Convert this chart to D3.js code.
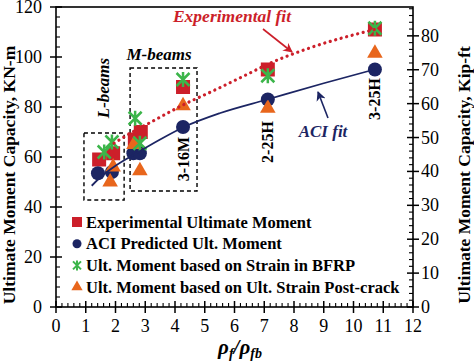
<!DOCTYPE html>
<html>
<head>
<meta charset="utf-8">
<script src="https://cdn.jsdelivr.net/npm/d3@7"></script>
<style>
body { margin: 0; background: #fff; }
text { font-family: "Liberation Serif", "Times New Roman", serif; }
</style>
</head>
<body>
<svg id="chart" width="474" height="361"></svg>
<script>
// values (x = rho_f / rho_fb, y = kN-m)
var expX = [1.45, 1.92, 2.65, 2.85, 4.27, 7.12, 10.72];
var expY = [59, 61.5, 67, 70, 88, 95, 111];
var aciX = [1.41, 1.88, 2.6, 2.82, 4.27, 7.12, 10.72];
var aciY = [53.5, 54, 61.5, 61.5, 72, 83, 95];
var strainX = [1.62, 1.88, 2.66, 2.82, 4.27, 7.12, 10.72];
var strainY = [62, 66, 75.5, 65.5, 91, 92.5, 111.5];
var crackX = [1.82, 1.92, 2.62, 2.82, 4.27, 7.12, 10.72];
var crackY = [50, 56, 65, 54.5, 80.5, 79.5, 101.5];

// fitted curves, traced
var aciFitX = [1.2, 1.5, 2.0, 2.7, 3.5, 4.3, 5.5, 7.1, 9.0, 10.7];
var aciFitY = [48.5, 52, 56.5, 61.5, 67, 72, 77.5, 83, 89.5, 95];
var expFitX = [1.95, 2.5, 3.2, 4.3, 5.2, 6.5, 7.1, 8.5, 10.7];
var expFitY = [65.5, 69.5, 74, 81, 86, 93.5, 97, 103.5, 111];

var legendLabels = ["Experimental Ultimate Moment", "ACI Predicted Ult. Moment",
    "Ult. Moment based on Strain in BFRP", "Ult. Moment based on Ult. Strain Post-crack"];
var xTicks = [0, 1, 2, 3, 4, 5, 6, 7, 8, 9, 10, 11, 12];
var yTicks = [0, 20, 40, 60, 80, 100, 120];
var y2Ticks = [0, 10, 20, 30, 40, 50, 60, 70, 80];

var red = "#cc1f2a", navy = "#1c2563", green = "#3cb54a", orange = "#e8661c";

var svg = d3.select("#chart");
var plotL = 56, plotR = 413, plotT = 7, plotB = 307;

var x = d3.scaleLinear().domain([0, 12]).range([plotL, plotR]);
var y = d3.scaleLinear().domain([0, 120]).range([plotB, plotT]);
var y2 = d3.scaleLinear().domain([0, 120 * 0.7376]).range([plotB, plotT]);

// frame
svg.append("rect").attr("x", plotL).attr("y", plotT)
    .attr("width", plotR - plotL).attr("height", plotB - plotT)
    .attr("fill", "none").attr("stroke", "#000").attr("stroke-width", 1.6);

// ticks: majors cross the axis, minors point inward
function tick(x1, y1, x2, y2_, w) {
    svg.append("line").attr("x1", x1).attr("y1", y1).attr("x2", x2).attr("y2", y2_)
        .attr("stroke", "#000").attr("stroke-width", w);
}
d3.range(0, 12.001, 0.2).forEach(function (v) {
    var px = x(v);
    if (Math.abs(v - Math.round(v)) < 1e-6) tick(px, plotB - 6, px, plotB + 6, 1.5);
    else tick(px, plotB - 4, px, plotB, 1.1);
});
d3.range(0, 120.001, 4).forEach(function (v) {
    var py = y(v);
    if (v % 20 === 0) tick(plotL - 6, py, plotL + 6, py, 1.5);
    else tick(plotL, py, plotL + 4, py, 1.1);
});
d3.range(0, 88.5, 2).forEach(function (v) {
    var py = y2(v);
    if (v % 10 === 0) tick(plotR - 6, py, plotR + 6, py, 1.5);
    else tick(plotR - 4, py, plotR, py, 1.1);
});

// tick labels
svg.selectAll(".xl").data(xTicks).enter().append("text")
    .attr("x", function (d) { return x(d); }).attr("y", plotB + 25)
    .attr("text-anchor", "middle").attr("font-size", 18).text(function (d) { return d; });
svg.selectAll(".yl").data(yTicks).enter().append("text")
    .attr("x", plotL - 14).attr("y", function (d) { return y(d) + 6; })
    .attr("text-anchor", "end").attr("font-size", 18).text(function (d) { return d; });
svg.selectAll(".y2l").data(y2Ticks).enter().append("text")
    .attr("x", plotR + 8).attr("y", function (d) { return y2(d) + 6; })
    .attr("text-anchor", "start").attr("font-size", 18).text(function (d) { return d; });

// axis titles
svg.append("text").attr("transform", "translate(15,175) rotate(-90)")
    .attr("text-anchor", "middle").attr("font-size", 17.5).attr("font-weight", "bold")
    .text("Ultimate Moment Capacity, KN-m");
svg.append("text").attr("transform", "translate(470,175) rotate(-90)")
    .attr("text-anchor", "middle").attr("font-size", 17.5).attr("font-weight", "bold")
    .text("Ultimate Moment Capacity, Kip-ft");
var xt = svg.append("text").attr("x", 240).attr("y", 354).attr("text-anchor", "middle")
    .attr("font-size", 21).attr("font-weight", "bold").attr("font-style", "italic");
xt.append("tspan").text("ρ");
xt.append("tspan").attr("font-size", 14).attr("dy", 4).text("f");
xt.append("tspan").attr("dy", -4).text("/ρ");
xt.append("tspan").attr("font-size", 14).attr("dy", 4).text("fb");

// dashed group boxes
function box(x0, x1, yTop, yBot) {
    svg.append("rect").attr("x", x(x0)).attr("y", y(yTop))
        .attr("width", x(x1) - x(x0)).attr("height", y(yBot) - y(yTop))
        .attr("fill", "none").attr("stroke", "#000").attr("stroke-width", 1.4)
        .attr("stroke-dasharray", "4 3");
}
box(0.94, 2.29, 69.6, 42.8);
box(2.49, 4.74, 95.6, 46.4);

function zip(a, b) { return a.map(function (v, i) { return [v, b[i]]; }); }

// markers
var g = svg.append("g");
g.selectAll(".sq").data(zip(expX, expY)).enter().append("rect")
    .attr("x", function (d) { return x(d[0]) - 7; }).attr("y", function (d) { return y(d[1]) - 7; })
    .attr("width", 14).attr("height", 14).attr("fill", red);
g.selectAll(".ci").data(zip(aciX, aciY)).enter().append("circle")
    .attr("cx", function (d) { return x(d[0]); }).attr("cy", function (d) { return y(d[1]); })
    .attr("r", 7).attr("fill", navy);
var tri = d3.symbol().type(d3.symbolTriangle).size(105);
g.selectAll(".tr").data(zip(crackX, crackY)).enter().append("path")
    .attr("d", tri).attr("fill", orange)
    .attr("transform", function (d) { return "translate(" + x(d[0]) + "," + y(d[1]) + ")"; });
var star = "M-6.5,-6.5L6.5,6.5M-6.5,6.5L6.5,-6.5M0,-7.5L0,7.5";
g.selectAll(".st").data(zip(strainX, strainY)).enter().append("path")
    .attr("d", star).attr("stroke", green).attr("stroke-width", 2.5).attr("fill", "none")
    .attr("transform", function (d) { return "translate(" + x(d[0]) + "," + y(d[1]) + ")"; });

// fit lines
var line = d3.line().x(function (d) { return x(d[0]); }).y(function (d) { return y(d[1]); })
    .curve(d3.curveMonotoneX);
svg.append("path").attr("d", line(zip(aciFitX, aciFitY)))
    .attr("fill", "none").attr("stroke", navy).attr("stroke-width", 1.8);
svg.append("path").attr("d", line(zip(expFitX, expFitY)))
    .attr("fill", "none").attr("stroke", red).attr("stroke-width", 3.2)
    .attr("stroke-linecap", "round").attr("stroke-dasharray", "0.1 5.6");

// arrows
var defs = svg.append("defs");
function marker(id, col) {
    defs.append("marker").attr("id", id).attr("viewBox", "0 0 10 10").attr("refX", 9).attr("refY", 5)
        .attr("markerWidth", 6).attr("markerHeight", 6).attr("orient", "auto")
        .append("path").attr("d", "M0,0L10,5L0,10L3,5Z").attr("fill", col);
}
marker("ar", red);
marker("an", navy);
svg.append("line").attr("x1", 263).attr("y1", 29).attr("x2", 292).attr("y2", 52)
    .attr("stroke", red).attr("stroke-width", 1.6).attr("marker-end", "url(#ar)");
svg.append("line").attr("x1", 328).attr("y1", 118).attr("x2", 318).attr("y2", 92)
    .attr("stroke", navy).attr("stroke-width", 1.6).attr("marker-end", "url(#an)");

// annotations
svg.append("text").attr("x", 232).attr("y", 22).attr("text-anchor", "middle")
    .attr("font-size", 17.5).attr("font-weight", "bold").attr("font-style", "italic")
    .attr("fill", red).text("Experimental fit");
svg.append("text").attr("x", 323).attr("y", 137).attr("text-anchor", "middle")
    .attr("font-size", 17).attr("font-weight", "bold").attr("font-style", "italic")
    .attr("fill", navy).text("ACI fit");
svg.append("text").attr("x", 159).attr("y", 60).attr("text-anchor", "middle")
    .attr("font-size", 17).attr("font-weight", "bold").attr("font-style", "italic").text("M-beams");
svg.append("text").attr("transform", "translate(109,88) rotate(-90)").attr("text-anchor", "middle")
    .attr("font-size", 17).attr("font-weight", "bold").attr("font-style", "italic").text("L-beams");
[["3-16M", 4.27, 159], ["2-25H", 7.12, 142], ["3-25H", 10.72, 99]].forEach(function (t) {
    svg.append("text").attr("transform", "translate(" + (x(t[1]) + 5.5) + "," + t[2] + ") rotate(-90)")
        .attr("text-anchor", "middle").attr("font-size", 16).attr("font-weight", "bold").text(t[0]);
});

// legend
var lg = svg.append("g").attr("transform", "translate(77,222)");
legendLabels.forEach(function (lab, i) {
    var row = lg.append("g").attr("transform", "translate(0," + (i * 21.7) + ")");
    if (i === 0) row.append("rect").attr("x", -5).attr("y", -5).attr("width", 10).attr("height", 10).attr("fill", red);
    if (i === 1) row.append("circle").attr("r", 4.5).attr("fill", navy);
    if (i === 2) row.append("path").attr("d", "M-4,-4L4,4M-4,4L4,-4M0,-5L0,5").attr("stroke", green).attr("stroke-width", 2);
    if (i === 3) row.append("path").attr("d", d3.symbol().type(d3.symbolTriangle).size(55)).attr("fill", orange);
    row.append("text").attr("x", 9).attr("y", 5.5).attr("font-size", 16.5).attr("font-weight", "bold").text(lab);
});
</script>
</body>
</html>
